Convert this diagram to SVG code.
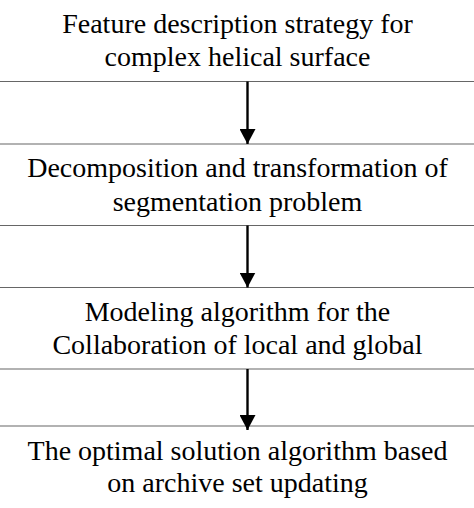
<svg xmlns="http://www.w3.org/2000/svg" width="474" height="508" viewBox="0 0 474 508">
<style>
.t{font-family:'Liberation Serif','Times New Roman',Times,serif;font-size:28px;fill:#000;text-anchor:middle}
.sep{stroke:#666;stroke-width:1.2}
.arr{stroke:#000;stroke-width:2.4;fill:none}
</style>
<defs>
<marker id="ah" markerUnits="userSpaceOnUse" markerWidth="16" markerHeight="16" refX="15" refY="8" orient="auto">
<path d="M0,0 L15,8 L0,16 Z" fill="#000"/>
</marker>
</defs>
<rect width="474" height="508" fill="#fff"/>
<g id="separators">
<line class="sep" x1="0" y1="81.5" x2="474" y2="81.5"/>
<line class="sep" x1="0" y1="144" x2="474" y2="144"/>
<line class="sep" x1="0" y1="225.5" x2="474" y2="225.5"/>
<line class="sep" x1="0" y1="287.5" x2="474" y2="287.5"/>
<line class="sep" x1="0" y1="369" x2="474" y2="369"/>
<line class="sep" x1="0" y1="426" x2="474" y2="426"/>
</g>
<g id="node1"><text class="t" x="237.5" y="33">Feature description strategy for</text><text class="t" x="237.5" y="66">complex helical surface</text></g>
<g id="node2"><text class="t" x="237.5" y="177">Decomposition and transformation of</text><text class="t" x="237.5" y="211">segmentation problem</text></g>
<g id="node3"><text class="t" x="237.5" y="320.5">Modeling algorithm for the</text><text class="t" x="237.5" y="354">Collaboration of local and global</text></g>
<g id="node4"><text class="t" x="237.5" y="459.5">The optimal solution algorithm based</text><text class="t" x="237.5" y="492">on archive set updating</text></g>
<g id="connectors">
<line class="arr" x1="247.5" y1="81.5" x2="247.5" y2="144" marker-end="url(#ah)"/>
<line class="arr" x1="247.5" y1="225.5" x2="247.5" y2="287.5" marker-end="url(#ah)"/>
<line class="arr" x1="247.5" y1="369" x2="247.5" y2="430" marker-end="url(#ah)"/>
</g>
</svg>
